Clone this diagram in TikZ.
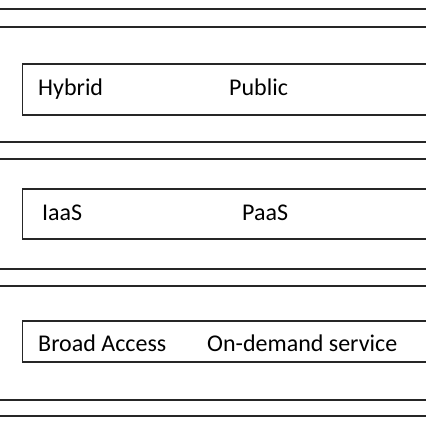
\documentclass[tikz,border=0pt]{standalone}
\usepackage{fontspec}
\setmainfont{Carlito}
\usetikzlibrary{positioning}

\begin{document}
\begin{tikzpicture}[
  x=1pt, y=-1pt,
  rule/.style={line width=1.3pt, draw=black!85},
  tag/.style={anchor=base west, inner sep=0pt, font=\fontsize{24}{28}\selectfont}
]
\useasboundingbox (0,0) rectangle (426,426);

% double rules between the boxes
\foreach \ya/\yb in {9/27, 142/159, 269/286, 400/416}
  \draw[rule] (0,\ya) -- (426,\ya) (0,\yb) -- (426,\yb);

% open boxes (no right side)
\foreach \yt/\yb in {64/115, 189/239, 321/362}
  \draw[rule] (426,\yt) -- (22.5,\yt) -- (22.5,\yb) -- (426,\yb);

\node[tag] (hybrid) at (38,95.5) {Hybrid};
\node[tag] (public) at (229,95.5) {Public};
\node[tag] (iaas) at (42,220) {IaaS};
\node[tag] (paas) at (242,220) {PaaS};
\node[tag] (broad) at (38,351) {Broad Access};
\node[tag] (ondemand) at (207,351) {On-demand service};

\end{tikzpicture}
\end{document}
